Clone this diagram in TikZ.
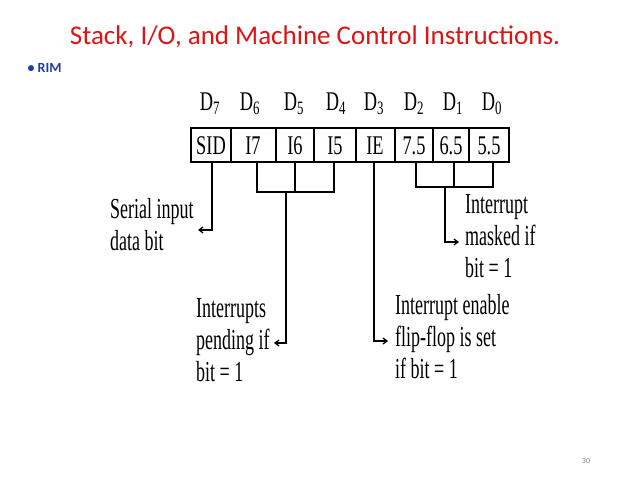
\documentclass[tikz,border=0pt]{standalone}
\usepackage{fontspec}
\setmainfont{Liberation Serif}
\newfontfamily\cond[FakeStretch=0.62]{Liberation Serif}
\newfontfamily\condb[FakeStretch=0.68]{Liberation Serif}
\newfontfamily\calib{Carlito}
\usetikzlibrary{arrows.meta}
\begin{document}
\begin{tikzpicture}[x=1pt,y=-1pt,
  ln/.style={line width=1.3pt},
  ar/.style={ln,-{Straight Barb[length=4pt,width=6pt]}},
  lbl/.style={font=\cond\fontsize{29}{32}\selectfont,align=left,anchor=north west,inner sep=0pt},
  bit/.style={font=\condb\fontsize{27}{28}\selectfont,inner sep=0pt}]
\useasboundingbox[fill=white] (0,0) rectangle (638,478);
\node[font=\calib\fontsize{27}{30}\selectfont,text={rgb,255:red,220;green,20;blue,20}] (title) at (315,37) {Stack, I/O, and Machine Control Instructions.};
\node[font=\calib\bfseries\fontsize{14}{16}\selectfont,text={rgb,255:red,30;green,60;blue,170},anchor=west] (rim) at (24,68) {\textbullet\ RIM};
\node[font=\calib\fontsize{8}{9}\selectfont,text=gray] (pg) at (586,461) {30};
% register
\draw[ln] (191,128) rectangle (509,162);
\foreach \x in {231,276,314,356,395,433,469} \draw[ln] (\x,128) -- (\x,162);
\foreach \n/\x/\t in {c7/211/SID,c6/253/I7,c5/295/I6,c4/335/I5,c3/375/IE,c2/414/7.5,c1/451/6.5,c0/489/5.5}
  \node[bit] (\n) at (\x,146) {\t};
\foreach \n/\x/\i in {d7/210/7,d6/250/6,d5/294/5,d4/336/4,d3/374/3,d2/414/2,d1/453/1,d0/492/0}
  \node[bit] (\n) at (\x,104) {D\textsubscript{\i}};
% SID
\coordinate (s1) at (212,162); \coordinate (s2) at (212,230); \coordinate (s3) at (198,230);
\draw[ar] (s1) -- (s2) -- (s3);
% I7-I5 bracket
\coordinate (b1) at (257,162); \coordinate (b2) at (257,192); \coordinate (b3) at (334,192); \coordinate (b4) at (334,162);
\coordinate (b5) at (295,162); \coordinate (b6) at (295,192);
\draw[ln] (b1) -- (b2) -- (b3) -- (b4); \draw[ln] (b5) -- (b6);
\coordinate (p1) at (286,192); \coordinate (p2) at (286,343); \coordinate (p3) at (274,343);
\draw[ar] (p1) -- (p2) -- (p3);
% IE
\coordinate (e1) at (374,162); \coordinate (e2) at (374,341); \coordinate (e3) at (388,341);
\draw[ar] (e1) -- (e2) -- (e3);
% mask bracket
\coordinate (m1) at (416,162); \coordinate (m2) at (416,187); \coordinate (m3) at (493,187); \coordinate (m4) at (493,162);
\coordinate (m5) at (454,162); \coordinate (m6) at (454,187);
\draw[ln] (m1) -- (m2) -- (m3) -- (m4); \draw[ln] (m5) -- (m6);
\coordinate (k1) at (445,187); \coordinate (k2) at (445,242); \coordinate (k3) at (459,242);
\draw[ar] (k1) -- (k2) -- (k3);
% labels
\node[lbl] (t1) at (110,198) {Serial input\\data bit};
\node[lbl] (t2) at (465,194) {Interrupt\\masked if\\bit = 1};
\node[lbl] (t3) at (196,298) {Interrupts\\pending if\\bit = 1};
\node[lbl] (t4) at (395,294) {Interrupt enable\\flip-flop is set\\if bit = 1};
\end{tikzpicture}
\end{document}
